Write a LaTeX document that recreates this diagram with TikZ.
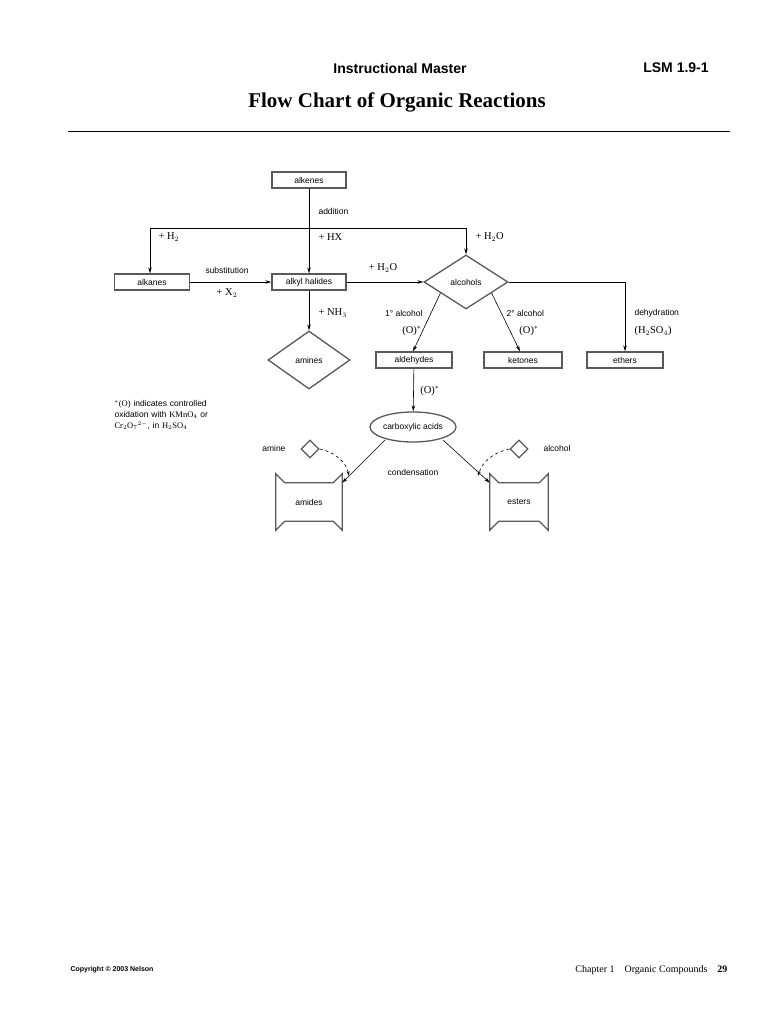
\documentclass[tikz,border=0pt]{standalone}
\usepackage{fontspec}
\setmainfont{Liberation Serif}
\setsansfont{Liberation Sans}
\usetikzlibrary{shapes.geometric,arrows.meta,calc}
\begin{document}
\begin{tikzpicture}[x=1pt,y=-1pt,
  lab/.style={font=\sffamily\fontsize{8.5}{10}\selectfont},
  chem/.style={font=\rmfamily\fontsize{10.5}{12}\selectfont},
  bx/.style={draw=black!65,line width=1.3pt,minimum width=74pt,minimum height=16pt,inner sep=0pt,font=\sffamily\fontsize{8.5}{10}\selectfont},
  dia/.style={diamond,draw=black!65,line width=1.3pt,inner sep=0pt,font=\sffamily\fontsize{8.5}{10}\selectfont},
  oct/.style={draw=none,minimum width=66pt,minimum height=38pt,inner sep=0pt,font=\sffamily\fontsize{8.5}{10}\selectfont},
  arr/.style={-{Stealth[length=6pt,width=3.5pt]},line width=0.6pt},
  ln/.style={line width=0.6pt}]
\useasboundingbox (0,0) rectangle (768,1024);
\fill[white] (0,0) rectangle (768,1024);
\node[font=\sffamily\bfseries\fontsize{14}{16}\selectfont] (hd) at (400,68) {Instructional Master};
\node[font=\sffamily\bfseries\fontsize{14}{16}\selectfont] (lsm) at (676,68) {LSM 1.9-1};
\node[font=\rmfamily\bfseries\fontsize{21}{24}\selectfont] (title) at (397,102) {Flow Chart of Organic Reactions};
\coordinate (r1) at (68,131); \coordinate (r2) at (730,131);
\draw[line width=0.8pt] (r1) -- (r2);

\node[bx] (alk) at (309,180) {alkenes};
\node[bx,minimum width=75pt] (alka) at (152,282) {alkanes};
\node[bx] (hal) at (309,282) {alkyl halides};
\node[dia,minimum width=84pt,minimum height=54pt] (alc) at (466,282) {alcohols};
\node[dia,minimum width=82pt,minimum height=58pt] (ami) at (309,360) {amines};
\node[bx,minimum width=76pt] (ald) at (414,360) {aldehydes};
\node[bx,minimum width=78pt] (ket) at (523,360) {ketones};
\node[bx,minimum width=76pt] (eth) at (625,360) {ethers};
\node[ellipse,draw=black!65,line width=1.3pt,minimum width=86pt,minimum height=30pt,inner sep=0pt,font=\sffamily\fontsize{8.5}{10}\selectfont] (ca) at (413,427) {carboxylic acids};
\node[oct] (amd) at (309,502) {amides};
\node[oct,minimum width=58pt] (est) at (519,502) {esters};
\foreach \n in {amd,est}{
 \draw[black!65,line width=1.3pt] ([xshift=9pt]\n.north west) -- ([xshift=-9pt]\n.north east) -- ([yshift=9pt]\n.north east) -- ([yshift=-9pt]\n.south east) -- ([xshift=-9pt]\n.south east) -- ([xshift=9pt]\n.south west) -- ([yshift=-9pt]\n.south west) -- ([yshift=9pt]\n.north west) -- cycle;}
\node[dia,minimum width=18pt,minimum height=18pt] (dam) at (310,449) {};
\node[dia,minimum width=18pt,minimum height=18pt] (dal) at (519,449) {};
\node[lab,anchor=east] (tam) at (289,448) {amine};
\node[lab,anchor=west] (tal) at (540,448) {alcohol};

% alkenes connections
\coordinate (j) at (309,228);
\coordinate (jl) at (150,228);
\coordinate (jr) at (466,228);
\draw[arr] (alk) -- (hal);
\draw[ln] (jl) -- (jr);
\draw[arr] (jl) -- (alka.north -| jl);
\draw[arr] (jr) -- (alc.north);
\node[lab,anchor=west] (tadd) at (315,211) {addition};
\node[chem,anchor=west] (th2) at (155,237) {+ H$_2$};
\node[chem,anchor=west] (thx) at (315,237) {+ HX};
\node[chem,anchor=west] (th2o) at (472,237) {+ H$_2$O};

\draw[arr] (alka) -- (hal);
\node[lab] (tsub) at (227,270) {substitution};
\node[chem] (tx2) at (227,293) {+ X$_2$};
\draw[arr] (hal) -- (alc);
\node[chem] (th2ob) at (383,268) {+ H$_2$O};
\draw[arr] (hal) -- (ami);
\node[chem,anchor=west] (tnh3) at (315,313) {+ NH$_3$};

\coordinate (ec) at (625,282);
\draw[ln] (alc.east) -- (ec);
\draw[arr] (ec) -- (eth);
\node[lab,anchor=west] (tdeh) at (631,313) {dehydration};
\node[chem,anchor=west] (th2so4) at (631,331) {(H$_2$SO$_4$)};

\draw[arr] ($(alc.south)!0.6!(alc.west)$) -- ([xshift=-1pt]ald.north);
\draw[arr] ($(alc.south)!0.6!(alc.east)$) -- ([xshift=-3pt]ket.north);
\node[lab,anchor=east] (t1a) at (426,313) {1° alcohol};
\node[chem] (to1) at (412,331) {(O)$^{*}$};
\node[lab,anchor=west] (t2a) at (503,313) {2° alcohol};
\node[chem] (to2) at (529,331) {(O)$^{*}$};

\draw[arr] (ald) -- (ca);
\node[chem] (to3) at (430,391) {(O)$^{*}$};

\coordinate (ca1) at (385,440);
\coordinate (ca2) at (443,440);
\draw[arr] (ca1) -- (amd.north east);
\draw[arr] (ca2) -- (est.north west);
\node[lab] (tcond) at (413,472) {condensation};
\coordinate (pa) at (349,476);
\coordinate (pe) at (478,476);
\draw[ln,dashed,-{Stealth[length=5pt,width=3pt]}] (dam.east) .. controls (335,452) and (346,462) .. (pa);
\draw[ln,dashed,-{Stealth[length=5pt,width=3pt]}] (dal.west) .. controls (494,452) and (482,462) .. (pe);

\node[lab,anchor=west,align=left,text width=140pt] (fn) at (111,415) {$^{*}${\rmfamily(O)} indicates controlled\\[1pt] oxidation with {\rmfamily KMnO$_4$} or\\[1pt] {\rmfamily Cr$_2$O$_7$$^{2-}$}, in {\rmfamily H$_2$SO$_4$}};

\node[font=\sffamily\bfseries\fontsize{7}{8}\selectfont,anchor=west] (cp) at (67,970) {Copyright © 2003 Nelson};
\node[font=\rmfamily\fontsize{10}{12}\selectfont,anchor=east] (ch) at (731,970) {Chapter 1\quad Organic Compounds\quad \textbf{29}};
\end{tikzpicture}
\end{document}
